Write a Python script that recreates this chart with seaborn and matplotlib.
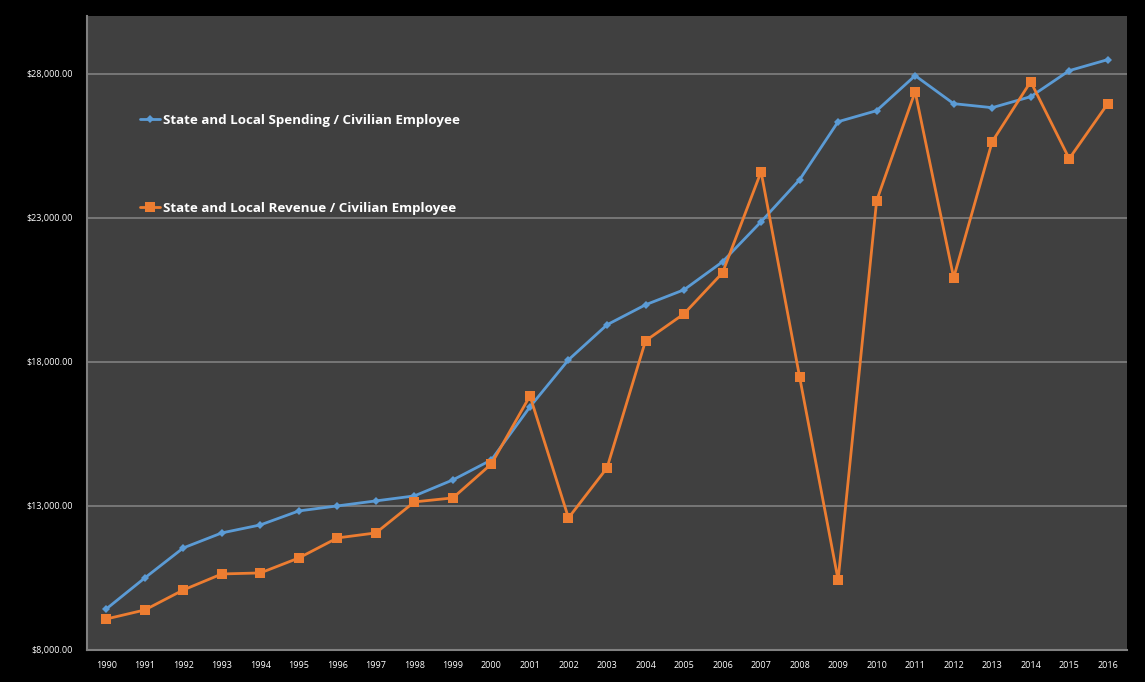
import matplotlib
matplotlib.use("Agg")
import matplotlib.pyplot as plt
import matplotlib.ticker as mticker
import seaborn as sns
import pandas as pd

years = list(range(1990, 2017))
spending = [9424, 10500, 11542, 12063, 12340, 12826, 13000, 13174, 13347, 13903,
            14597, 16438, 18069, 19285, 19979, 20500, 21472, 22861, 24319, 26333,
            26715, 27931, 26958, 26819, 27201, 28104, 28486]
revenue = [9076, 9389, 10083, 10639, 10674, 11194, 11889, 12063, 13139, 13278,
           14458, 16819, 12583, 14319, 18729, 19667, 21090, 24597, 17479, 10431,
           23590, 27375, 20917, 25639, 27722, 25049, 26958]
series_names = ["State and Local Spending / Civilian Employee",
                "State and Local Revenue / Civilian Employee"]
y_ticks = [8000, 13000, 18000, 23000, 28000]

df = pd.concat([
    pd.DataFrame({"year": years, "value": spending, "series": series_names[0]}),
    pd.DataFrame({"year": years, "value": revenue, "series": series_names[1]}),
])

sns.set_style("dark")
plt.rcParams['font.family'] = ['Open Sans', 'DejaVu Sans']

fig = plt.figure(figsize=(11.45, 6.82), dpi=100, facecolor="black")
ax = fig.add_axes([87/1145, 32/682, 1040/1145, 634/682])
ax.set_facecolor("#404040")

palette = {series_names[0]: "#5B9BD5", series_names[1]: "#ED7D31"}
markers = {series_names[0]: "D", series_names[1]: "s"}
sns.lineplot(data=df, x="year", y="value", hue="series", style="series",
             markers=markers, dashes=False, palette=palette, ax=ax,
             linewidth=2, markeredgewidth=0)
for line in ax.get_lines():
    if line.get_marker() == "D":
        line.set_markersize(4.5)
    else:
        line.set_markersize(6.5)

ax.set_xlim(1989.5, 2016.5)
ax.set_ylim(8000, 30000)
ax.set_xticks(years)
ax.set_xticklabels([str(y) for y in years])
ax.set_xticks([y + 0.5 for y in years[:-1]] + [1989.5, 2016.5], minor=True)
ax.set_yticks(y_ticks)
ax.yaxis.set_major_formatter(mticker.FuncFormatter(lambda v, p: f"${v:,.2f}"))
ax.tick_params(axis="x", which="major", length=0, labelsize=6.5, colors="white", pad=8)
ax.tick_params(axis="x", which="minor", length=4, color="#808080", direction="out", width=1)
ax.tick_params(axis="y", which="major", length=4, color="#808080", labelsize=6.5,
               labelcolor="white", direction="out", pad=6)
ax.grid(False)
ax.yaxis.grid(True, color="#808080", linewidth=1.2)
for side in ["top", "right"]:
    ax.spines[side].set_visible(False)
for side in ["left", "bottom"]:
    ax.spines[side].set_visible(True)
    ax.spines[side].set_color("#808080")
    ax.spines[side].set_linewidth(1.5)
ax.set_xlabel("")
ax.set_ylabel("")

handles, labels = ax.get_legend_handles_labels()
leg = ax.legend(handles, labels, loc="upper left", bbox_to_anchor=(128/1145, 1 - 102/682),
                bbox_transform=fig.transFigure, frameon=False, labelspacing=5.6,
                handlelength=1.5, handletextpad=0.25,
                prop={"size": 9.6, "weight": "bold"})
for t in leg.get_texts():
    t.set_color("white")

fig.savefig("out.png", dpi=100, facecolor="black")
